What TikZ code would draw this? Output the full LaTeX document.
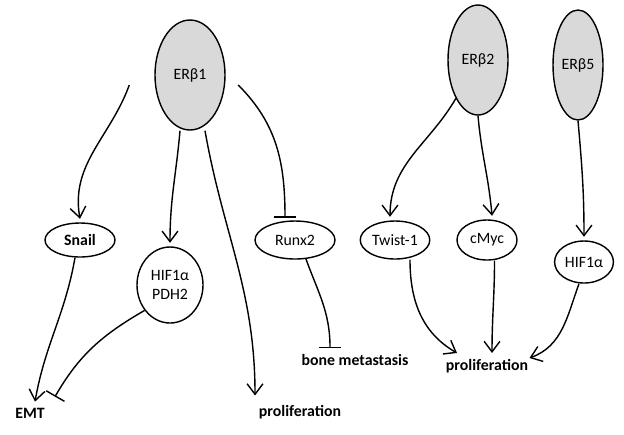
\documentclass[tikz,border=0pt]{standalone}
\usepackage{fontspec}
\setmainfont{Carlito}
\usetikzlibrary{shapes.geometric, arrows.meta, positioning}

\begin{document}
\begin{tikzpicture}[x=0.02cm, y=-0.02cm, font=\small,
        receptor/.style={ellipse, draw, thick, fill=gray!30, inner sep=0pt},
        target/.style={ellipse, draw, thick, inner sep=1pt, align=center},
        label/.style={font=\small\bfseries},
        act/.style={thick, -{Straight Barb[length=6pt, width=9pt]}},
        inh/.style={thick, -{Bar[width=12pt]}}
    ]
        \useasboundingbox (0,0) rectangle (624,434);
        % Receptors
        \node [receptor, minimum width=70*0.02cm, minimum height=110*0.02cm] (erb1) at (190,75) {ERβ1};
        \node [receptor, minimum width=60*0.02cm, minimum height=110*0.02cm] (erb2) at (478,60) {ERβ2};
        \node [receptor, minimum width=50*0.02cm, minimum height=110*0.02cm] (erb5) at (578,65) {ERβ5};

        % Targets
        \node [target, minimum width=70*0.02cm, minimum height=34*0.02cm] (snail) at (80,240) {\textbf{Snail}};
        \node [target, minimum width=66*0.02cm, minimum height=76*0.02cm] (hif) at (170,285) {HIF1α\\PDH2};
        \node [target, minimum width=80*0.02cm, minimum height=38*0.02cm] (runx) at (295,240) {Runx2};
        \node [target, minimum width=62*0.02cm, minimum height=38*0.02cm] (twist) at (395,240) {Twist-1};
        \node [target, minimum width=60*0.02cm, minimum height=40*0.02cm] (cmyc) at (487,240) {cMyc};
        \node [target, minimum width=56*0.02cm, minimum height=42*0.02cm] (hifr) at (584,262) {HIF1α};

        % Outcomes
        \node [label] (emt) at (30,413) {EMT};
        \node [label] (prolL) at (300,412) {proliferation};
        \node [label] (bone) at (355,360) {bone metastasis};
        \node [label] (prolR) at (487,366) {proliferation};

        % Arrows
        \draw [act] ([xshift=-0.5cm,yshift=-0.2cm]erb1.west) to[out=250, in=100] ([yshift=2pt]snail.north);
        \draw [act] ([xshift=-0.2cm]erb1.south) to[out=265, in=90] ([yshift=2pt]hif.north);
        \draw [act] ([xshift=0.3cm]erb1.south) to[out=280, in=90] ([xshift=-0.9cm,yshift=2pt]prolL.north);
        \draw [inh] ([xshift=0.25cm,yshift=-0.2cm]erb1.east) to[out=-45, in=90] ([xshift=-0.2cm,yshift=0.05cm]runx.north);
        \draw [act] ([xshift=-0.1cm]snail.south) to[out=260, in=80] ([xshift=0.1cm]emt.north);
        \draw [inh] (hif.225) to[out=210, in=60] ([xshift=0.5cm,yshift=0.1cm]emt.north);
        \draw [inh] (runx.-60) to[out=-70, in=90] ([xshift=-0.5cm]bone.north);
        \draw [act] (erb2.240) to[out=240, in=90] ([xshift=-0.1cm,yshift=2pt]twist.north);
        \draw [act] (erb2.south) to[out=275, in=95] ([xshift=0.1cm,yshift=2pt]cmyc.north);
        \draw [act] (erb5.south) to[out=275, in=90] ([yshift=2pt]hifr.north);
        \draw [act] ([xshift=0.3cm]twist.south) to[out=270, in=150] ([xshift=-0.6cm]prolR.north);
        \draw [act] ([xshift=0.15cm]cmyc.south) to[out=270, in=90] ([xshift=0.1cm]prolR.north);
        \draw [act] ([xshift=-0.1cm]hifr.south) to[out=250, in=20] ([xshift=0.85cm,yshift=-0.1cm]prolR.north);
\end{tikzpicture}
\end{document}
